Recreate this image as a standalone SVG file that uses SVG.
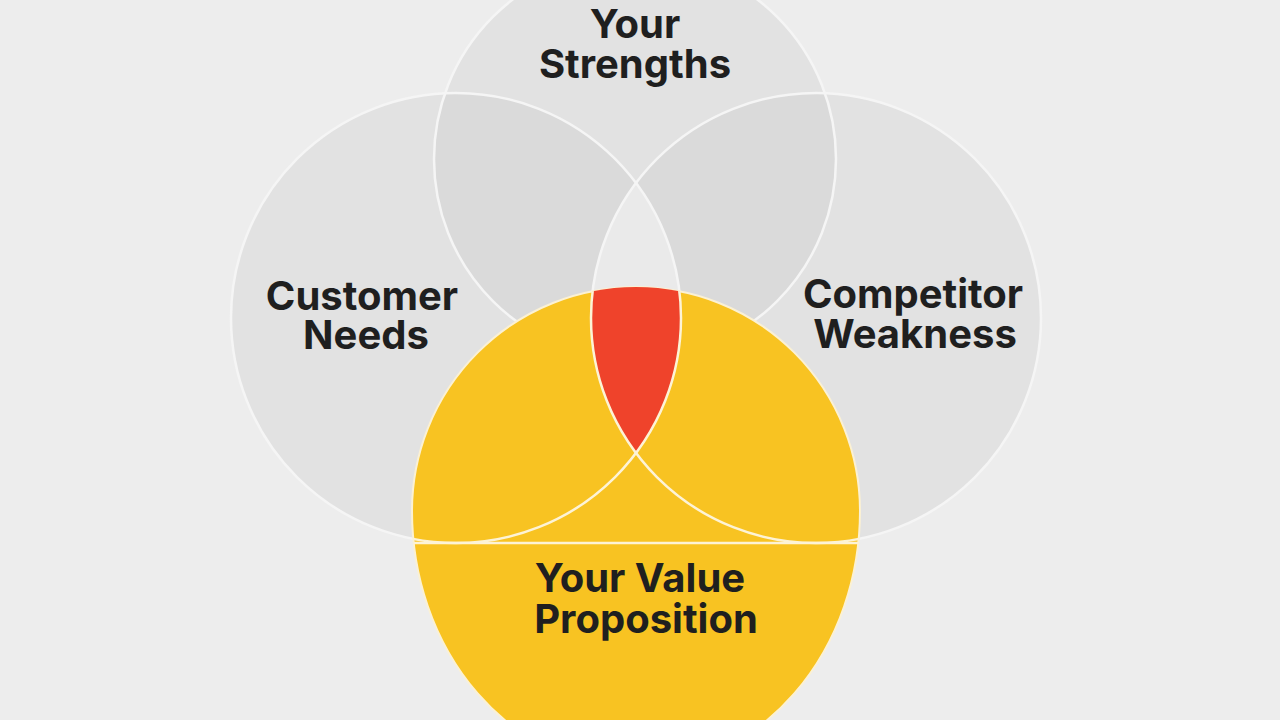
<svg xmlns="http://www.w3.org/2000/svg" width="1280" height="720" viewBox="0 0 1280 720">
  <style>
    .lbl{font-family:Inter,"Liberation Sans",sans-serif;font-weight:700;font-size:40px;fill:#1f1f1f;text-anchor:middle}
    .gray{fill:#e2e2e2}
    .ring{fill:none;stroke:#f5f5f5;stroke-width:2.5}
    .inner{fill:none;stroke:#fdf3d6;stroke-width:2.5}
  </style>
  <defs>
    <clipPath id="cLeft"><circle cx="456" cy="318" r="225"/></clipPath>
    <clipPath id="cRight"><circle cx="816" cy="318" r="225"/></clipPath>
    <clipPath id="cTop"><circle cx="635" cy="159" r="201"/></clipPath>
    <clipPath id="cYellow"><path d="M412,511 A224,224 0 0 1 860,511 A224,258 0 0 1 412,511 Z"/></clipPath>
  </defs>
  <rect id="background" width="1280" height="720" fill="#ededed"/>

  <g id="node-strengths">
    <circle class="gray" cx="635" cy="159" r="201"/>
  </g>
  <g id="node-customer-needs">
    <circle class="gray" cx="456" cy="318" r="225"/>
  </g>
  <g id="node-competitor-weakness">
    <circle class="gray" cx="816" cy="318" r="225"/>
  </g>

  <g id="overlaps">
    <circle cx="635" cy="159" r="201" fill="#dadada" clip-path="url(#cLeft)"/>
    <circle cx="635" cy="159" r="201" fill="#dadada" clip-path="url(#cRight)"/>
    <circle cx="816" cy="318" r="225" fill="#eaeaea" clip-path="url(#cLeft)"/>
  </g>

  <g id="connectors" class="ring">
    <circle cx="635" cy="159" r="201"/>
    <circle cx="456" cy="318" r="225"/>
    <circle cx="816" cy="318" r="225"/>
  </g>

  <g id="node-value-proposition">
    <path d="M412,511 A224,224 0 0 1 860,511 A224,258 0 0 1 412,511 Z" fill="#f8c322" stroke="#fbf1d4" stroke-width="2"/>
    <g clip-path="url(#cYellow)">
      <g clip-path="url(#cLeft)">
        <circle cx="816" cy="318" r="225" fill="#ef432b"/>
      </g>
      <circle class="inner" cx="456" cy="318" r="225"/>
      <circle class="inner" cx="816" cy="318" r="225"/>
      <line class="inner" x1="400" y1="543" x2="880" y2="543"/>
    </g>
  </g>

  <g id="labels">
    <text class="lbl" id="label-strengths"><tspan x="635" y="38">Your</tspan><tspan x="635" y="78">Strengths</tspan></text>
    <text class="lbl" id="label-customer-needs"><tspan x="362" y="310">Customer</tspan><tspan x="366" y="349">Needs</tspan></text>
    <text class="lbl" id="label-competitor-weakness"><tspan x="913" y="308">Competitor</tspan><tspan x="915" y="348">Weakness</tspan></text>
    <text class="lbl" id="label-value-proposition"><tspan x="640" y="592">Your Value</tspan><tspan x="646" y="633">Proposition</tspan></text>
  </g>
</svg>
